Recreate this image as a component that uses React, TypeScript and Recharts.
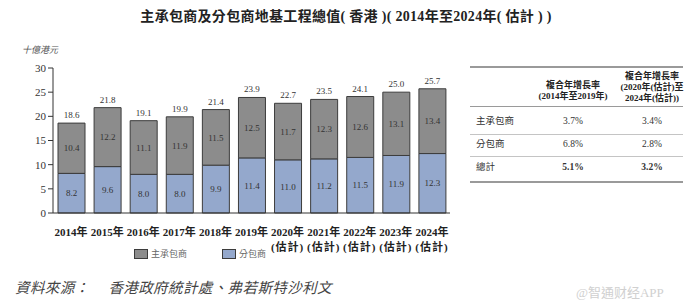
import React from "react";
import { Bar, BarChart, LabelList, XAxis, YAxis } from "recharts";

const years = ["2014年", "2015年", "2016年", "2017年", "2018年", "2019年", "2020年", "2021年", "2022年", "2023年", "2024年"];
const estimated = [false, false, false, false, false, false, true, true, true, true, true];
const subcontractor = [8.2, 9.6, 8.0, 8.0, 9.9, 11.4, 11.0, 11.2, 11.5, 11.9, 12.3];
const mainContractor = [10.4, 12.2, 11.1, 11.9, 11.5, 12.5, 11.7, 12.3, 12.6, 13.1, 13.4];
const totals = [18.6, 21.8, 19.1, 19.9, 21.4, 23.9, 22.7, 23.5, 24.1, 25.0, 25.7];
const yTicks = [0, 5, 10, 15, 20, 25, 30];

const tableRows = ["主承包商", "分包商", "總計"];
const cagrHistoric = ["3.7%", "6.8%", "5.1%"];
const cagrForecast = ["3.4%", "2.8%", "3.2%"];

const GREY = "#8c8c8c";
const BLUE = "#94a8cc";
const OUTLINE = "#3c3c3c";
const SERIF = "'Liberation Serif', 'Noto Sans CJK TC', serif";

const data = years.map((year, i) => ({
  year,
  est: estimated[i],
  sub: subcontractor[i],
  main: mainContractor[i],
  total: totals[i],
}));

function YearTick(props: any) {
  const { x, y, payload, index } = props;
  return (
    <g>
      <text x={x} y={y + 15} textAnchor="middle" fontSize={11} fontWeight="bold" fontFamily={SERIF} fill="#222">
        {payload.value}
      </text>
      {data[index]?.est && (
        <text x={x} y={y + 30} textAnchor="middle" fontSize={11} letterSpacing={1} fontWeight="bold" fontFamily={SERIF} fill="#222">
          (估計)
        </text>
      )}
    </g>
  );
}

const abs = (style: React.CSSProperties): React.CSSProperties => ({ position: "absolute", ...style });

function CagrTable() {
  const cell: React.CSSProperties = { fontSize: 9.5, fontFamily: SERIF, color: "#333", lineHeight: "11px", whiteSpace: "nowrap" };
  const head: React.CSSProperties = { ...cell, fontSize: 9, fontWeight: "bold", color: "#222", textAlign: "center" };
  const rowY = [116, 139, 162];
  return (
    <>
      <div style={abs({ left: 470, top: 66, width: 213, height: 2, background: "#9a9a9a" })} />
      <div style={abs({ left: 528, top: 80, width: 90, ...head })}>
        複合年增長率
        <br />
        (2014年至2019年)
      </div>
      <div style={abs({ left: 612, top: 71, width: 80, ...head })}>
        複合年增長率
        <br />
        (2020年(估計)至
        <br />
        2024年(估計))
      </div>
      <div style={abs({ left: 470, top: 106, width: 213, height: 1, background: "#9a9a9a" })} />
      <div style={abs({ left: 470, top: 134, width: 213, height: 1, background: "#c4c4c4" })} />
      <div style={abs({ left: 470, top: 156, width: 213, height: 1, background: "#c4c4c4" })} />
      <div style={abs({ left: 470, top: 181, width: 213, height: 2, background: "#9a9a9a" })} />
      {tableRows.map((row, i) => (
        <React.Fragment key={row}>
          <div style={abs({ left: 476, top: rowY[i], ...cell })}>{row}</div>
          <div style={abs({ left: 528, top: rowY[i], width: 90, textAlign: "center", ...cell, fontWeight: i === 2 ? "bold" : "normal" })}>
            {cagrHistoric[i]}
          </div>
          <div style={abs({ left: 612, top: rowY[i], width: 80, textAlign: "center", ...cell, fontWeight: i === 2 ? "bold" : "normal" })}>
            {cagrForecast[i]}
          </div>
        </React.Fragment>
      ))}
    </>
  );
}

export default function App() {
  return (
    <div style={abs({ left: 0, top: 0, width: 692, height: 300, background: "#fff", overflow: "hidden", fontFamily: SERIF })}>
      <div style={abs({ left: 0, top: 5, width: 692, textAlign: "center", fontSize: 14, letterSpacing: 0.3, fontWeight: "bold", color: "#222", whiteSpace: "pre" })}>
        主承包商及分包商地基工程總值( 香港 )( 2014年至2024年( 估計 ) )
      </div>
      <div style={abs({ left: 22, top: 43, fontSize: 9, fontStyle: "italic", color: "#555" })}>十億港元</div>

      <div style={abs({ left: 0, top: 0 })}>
        <BarChart width={460} height={300} data={data} margin={{ top: 68, right: 10, bottom: 47, left: 0 }} barSize={27}>
          <XAxis
            dataKey="year"
            height={40}
            tickLine={false}
            axisLine={{ stroke: "#333" }}
            tick={<YearTick />}
            interval={0}
          />
          <YAxis
            width={53}
            domain={[0, 30]}
            ticks={yTicks}
            tickSize={5}
            tickLine={{ stroke: "#333" }}
            axisLine={{ stroke: "#333" }}
            tick={{ fontSize: 11, fontFamily: SERIF, fill: "#333" }}
          />
          <Bar dataKey="sub" stackId="a" fill={BLUE} stroke={OUTLINE} strokeWidth={1} isAnimationActive={false}>
            <LabelList
              dataKey="sub"
              position="center"
              formatter={(v: any) => Number(v).toFixed(1)}
              style={{ fontSize: 9, fontFamily: SERIF, fill: "#333" }}
            />
          </Bar>
          <Bar dataKey="main" stackId="a" fill={GREY} stroke={OUTLINE} strokeWidth={1} isAnimationActive={false}>
            <LabelList
              dataKey="main"
              position="center"
              formatter={(v: any) => Number(v).toFixed(1)}
              style={{ fontSize: 9, fontFamily: SERIF, fill: "#333" }}
            />
            <LabelList
              dataKey="total"
              position="top"
              offset={5}
              formatter={(v: any) => Number(v).toFixed(1)}
              style={{ fontSize: 9, fontFamily: SERIF, fill: "#333" }}
            />
          </Bar>
        </BarChart>
      </div>

      <div style={abs({ left: 134, top: 249, width: 12, height: 8, background: GREY, border: `1px solid ${OUTLINE}` })} />
      <div style={abs({ left: 151, top: 247, fontSize: 9, color: "#666" })}>主承包商</div>
      <div style={abs({ left: 222, top: 249, width: 12, height: 8, background: BLUE, border: `1px solid ${OUTLINE}` })} />
      <div style={abs({ left: 239, top: 247, fontSize: 9, color: "#666" })}>分包商</div>

      <CagrTable />

      <div style={abs({ left: 15, top: 276, fontSize: 14.5, letterSpacing: 0.4, fontStyle: "italic", color: "#444", whiteSpace: "pre" })}>
        資料來源：　 香港政府統計處、弗若斯特沙利文
      </div>
      <div style={abs({ left: 576, top: 282, fontSize: 13, color: "#d0d0d0" })}>@智通财经APP</div>
    </div>
  );
}
